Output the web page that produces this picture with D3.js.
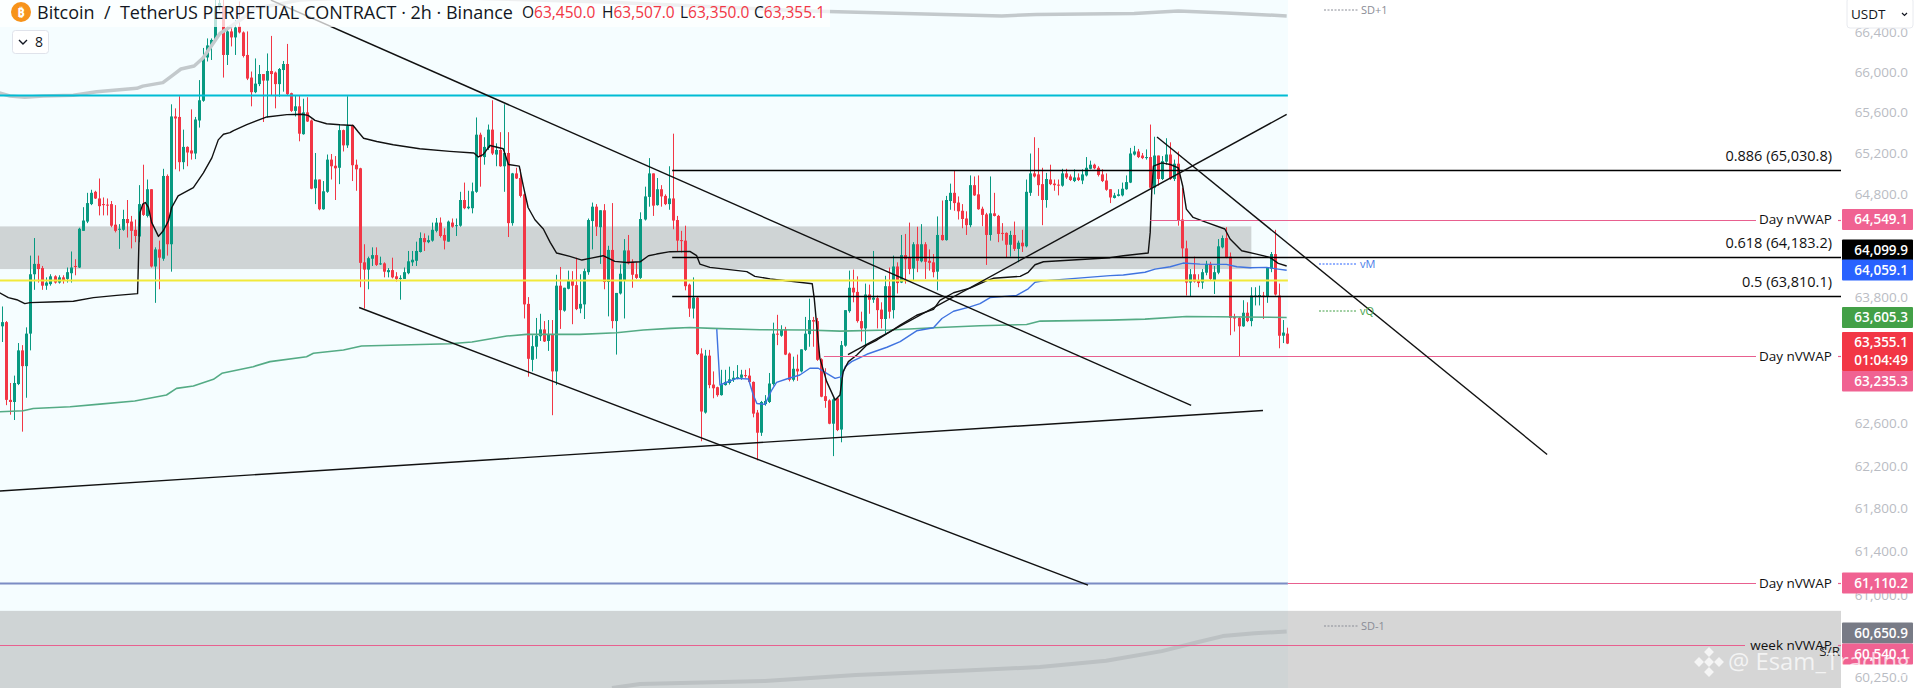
<!DOCTYPE html>
<html><head><meta charset="utf-8">
<script src="https://cdn.jsdelivr.net/npm/d3@7/dist/d3.min.js"></script>
<style>html,body{margin:0;padding:0;background:#fff;overflow:hidden}svg{display:block;font-family:"Open Sans","Noto Sans",sans-serif}</style>
</head><body><svg id="c" width="1918" height="688"></svg>
<script>
const opens=[63520,63560,62820,62800,62970,63290,63140,63450,64020,64120,
64080,63910,63925,64000,63940,63990,63975,64030,64100,64085,
64440,64530,64700,64820,64755,64700,64695,64700,64500,64450,
64450,64555,64530,64450,64385,64700,64585,64845,64095,64260,
64170,64975,64310,65560,65555,65110,65260,65225,65195,65520,
65715,66145,66255,66315,66655,66655,66170,66405,66345,66455,
66395,66170,65945,65800,65880,65980,65915,66010,65995,65880,
66020,66080,65790,65615,65660,65385,65600,65520,64855,64940,
64650,64820,65135,65075,65055,65425,65275,65465,65085,65050,
64135,64065,64170,64205,64115,64125,64040,64060,64000,63975,
63975,64030,64135,64150,64235,64370,64330,64345,64440,64520,
64400,64335,64520,64485,64490,64740,64660,64660,64820,65380,
65160,65250,65430,65185,65230,65070,65200,64515,65000,64955,
64795,63735,63200,63325,63425,63490,63380,63445,63090,63910,
63670,63880,63960,63915,63690,63730,64040,64535,64675,64475,
64640,63945,64255,63570,63835,63960,64250,64140,64020,63985,
64550,64770,65000,64690,64845,64780,64700,64755,64545,64350,
64345,63920,63690,63795,63260,62700,63240,62965,62940,62865,
62960,62980,63010,63030,63030,63055,63050,62990,62700,62510,
62780,62800,62970,63450,63430,63490,63260,63010,63115,63090,
63295,63445,63580,63570,63205,62855,62815,62595,62835,62540,
63335,63665,63890,63850,63570,63500,63825,63775,63790,63680,
63590,63905,63675,64095,63940,64205,64180,64075,64310,64145,
64310,64150,64135,64045,64400,64350,64730,64810,64715,64635,
64560,64495,64885,64795,64655,64600,64400,64610,64585,64420,
64420,64305,64400,64265,64325,64290,64810,65000,64990,64895,
64740,64940,64900,64890,64880,65000,64970,64925,64960,64930,
64980,65045,65085,65055,64990,64930,64845,64760,64780,64785,
64845,64910,65185,65215,65175,65150,65160,64860,65175,64945,
65115,65185,64945,65095,64550,64270,63940,64020,63955,63940,
64035,64120,63965,64035,64280,64370,64190,63610,63600,63520,
63650,63570,63810,63810,63815,63810,64075,64215,63815,63430,
63450];
const highs=[63710,63570,62980,63050,63360,63340,63510,64200,64370,64200,
64100,63990,64020,64010,64010,64010,64085,64240,64165,64470,
64670,64810,64840,64830,64950,64765,64755,64730,64690,64505,
64645,64740,64585,64550,64885,65085,64940,64845,64280,64345,
65045,64990,65680,65640,65760,65430,65265,65630,65555,65920,
66240,66335,66335,66780,66820,66780,66455,66435,66520,66705,
66405,66405,66005,66135,66070,65980,66185,66360,66005,66040,
66110,66280,65795,65770,65770,65735,65750,65530,65200,64940,
64925,65185,65190,65170,65475,65430,65760,65480,65135,65055,
64310,64190,64280,64280,64190,64135,64080,64180,64040,64010,
64085,64245,64245,64335,64425,64415,64395,64520,64565,64570,
64465,64540,64560,64560,64820,64910,64830,64910,65550,65400,
65355,65480,65720,65295,65405,65680,65405,65005,65055,65040,
64805,63800,63435,63600,63640,63570,63580,63580,64015,64090,
63890,64055,64050,64180,64020,64075,64560,64715,64700,64640,
64700,64295,64710,63840,64115,64360,64400,64165,64135,64620,
64870,65150,65000,64955,64885,64795,65070,65390,64585,64440,
64490,63930,63990,63800,63310,63295,63295,63090,62945,63105,
63105,63135,63095,63150,63105,63105,63120,62995,62725,62810,
62865,63075,63555,63630,63530,63515,63270,63230,63250,63300,
63610,63785,63610,63600,63215,63120,62825,62835,62840,63380,
63675,64055,64065,64000,63660,63930,63920,64245,63815,63750,
64005,64085,64200,64135,64400,64410,64520,64330,64480,64505,
64330,64260,64215,64580,64735,64780,64900,65030,64775,64700,
64630,64980,64970,64980,64675,64615,64970,64810,64595,64515,
64425,64440,64530,64345,64450,64940,65195,65355,65250,65055,
65005,65085,64940,64940,65045,65045,64990,65040,65000,65040,
65160,65125,65095,65070,65040,65000,64845,64810,64845,64910,
64980,65250,65270,65240,65200,65235,65480,65360,65175,65170,
65345,65305,65135,65215,64860,64345,64070,64190,64020,64070,
64150,64140,64100,64360,64395,64475,64230,63640,63610,63770,
63750,63895,63895,63910,63850,64085,64235,64450,63930,63580,
63507];
const lows=[63370,62770,62680,62630,62960,62520,62840,63290,63870,63940,
63870,63870,63910,63930,63930,63930,63940,63940,64010,64080,
64440,64515,64690,64750,64590,64590,64590,64475,64425,64265,
64440,64375,64270,64330,64330,64585,64570,64085,63745,63875,
64150,64200,64045,65040,65020,65040,65070,65135,65140,65450,
65705,66105,66120,66305,66620,65945,66070,66255,66170,66385,
66145,65920,65660,65790,65860,65505,65550,65770,65640,65755,
65805,65770,65605,65560,65315,65380,65505,64845,64700,64640,
64645,64810,64940,64740,64895,65215,65250,64925,64830,63895,
63690,63875,64100,64100,64110,63990,63990,63980,63950,63775,
63975,64020,64100,64100,64230,64245,64320,64335,64425,64375,
64260,64335,64470,64390,64480,64650,64650,64610,64810,64870,
65085,65230,65180,65070,65065,64820,64380,64490,64945,64765,
63595,63040,63090,63210,63380,63370,63285,62675,62960,63495,
63660,63875,63540,63675,63645,63590,64015,64260,64390,64120,
63875,63615,63500,63250,63825,63595,64115,63890,63975,63975,
64540,64675,64585,64685,64675,64690,64645,64455,64245,64230,
63865,63610,63595,63245,62430,62690,62930,62835,62850,62860,
62955,62965,62990,63015,63010,63030,62985,62655,62250,62480,
62765,62790,62955,63340,63420,63245,62995,62995,63000,63080,
63285,63325,63325,63190,62845,62745,62590,62290,62525,62420,
63325,63650,63750,63555,63375,63325,63640,63745,63500,63500,
63450,63595,63595,63835,63935,63930,64020,63960,64040,64135,
63975,64055,63990,63865,64345,64345,64645,64635,64550,64465,
64400,64475,64780,64645,64485,64110,64345,64580,64330,64345,
64180,64190,64245,64135,64235,64280,64780,64960,64780,64495,
64665,64885,64830,64785,64870,64945,64925,64915,64925,64895,
64970,65040,65040,64970,64915,64830,64710,64755,64775,64775,
64840,64905,65175,65150,65140,65135,64850,64795,64880,64935,
65085,64935,64925,64490,64180,63815,63810,63940,63895,63880,
64010,63965,63830,64020,64270,64175,63435,63470,63230,63515,
63560,63520,63720,63720,63590,63745,64040,63815,63310,63360,
63350];
const closes=[63560,62820,62800,62980,63290,63140,63450,64020,64120,64070,
63910,63940,64000,63940,63990,63960,64040,64085,64090,64460,
64540,64710,64810,64755,64680,64690,64690,64490,64440,64460,
64555,64515,64440,64390,64700,64595,64845,64095,64260,64180,
64975,64310,65560,65540,65110,65260,65205,65195,65530,65720,
66155,66265,66320,66655,66690,66170,66405,66345,66445,66395,
66160,65935,65800,65885,65980,65915,66010,65980,65880,66030,
66080,65780,65615,65660,65390,65600,65510,64850,64940,64650,
64825,65135,65070,65050,65425,65275,65465,65080,65040,64130,
64065,64175,64205,64110,64125,64045,64060,63990,63975,63985,
64040,64145,64160,64245,64370,64330,64350,64450,64520,64390,
64345,64530,64480,64495,64740,64660,64675,64825,65380,65160,
65260,65430,65195,65230,65070,65200,64515,65000,64950,64780,
63730,63210,63330,63430,63490,63375,63445,63090,63910,63675,
63890,63960,63910,63685,63735,64050,64545,64675,64480,64640,
63945,64255,63570,63840,64025,64250,64125,64015,63985,64555,
64775,65000,64685,64845,64775,64700,64755,64540,64345,64340,
63905,63690,63795,63255,62710,63240,62960,62930,62865,62965,
62990,63015,63030,63035,63060,63045,62990,62690,62510,62800,
62810,62975,63450,63440,63485,63250,63010,63115,63090,63300,
63450,63580,63565,63200,62850,62810,62595,62825,62535,63340,
63675,63890,63845,63570,63500,63825,63775,63795,63675,63590,
63905,63660,64095,63935,64205,64165,64070,64310,64150,64310,
64140,64130,64040,64400,64350,64740,64810,64710,64630,64555,
64495,64885,64785,64650,64595,64400,64610,64585,64410,64410,
64305,64400,64265,64325,64290,64820,65000,64970,64885,64740,
64945,64895,64885,64885,65000,64960,64935,64960,64935,64990,
65055,65085,65050,64985,64925,64840,64765,64785,64795,64850,
64915,65195,65215,65160,65150,65160,64860,65175,64945,65120,
65185,64945,65095,64540,64270,63940,64020,63950,63935,64040,
64120,63975,64040,64290,64370,64180,63600,63595,63520,63650,
63570,63815,63815,63820,63805,64085,64215,63825,63430,63460,
63355];

// anchored VWAP lines: bar position, price
const blackBars=[-1,1.5,3.6,5.6,6.9,11.9,17.7,22.7,28.5,33.7,34.1,34.3,35,35.6,36.4,37.2,38.9,40.1,41.4,42.2,43.8,47.6,50.1,52.2,53.8,55.1,56.7,57.6,60.9,65.9,70.9,74.6,76.2,77.9,80.8,84.1,87.4,88.7,90,93.3,97.4,104,111.5,117.5,118.6,119.8,121.5,124.8,126.1,128.8,129.8,131,132.7,134.8,136.5,138.1,141.4,144.4,146.4,149.7,152.6,155.6,158.9,161,163,166.4,171.3,173,173.8,176.3,185.5,187.5,191.3,201.8,202.3,202.9,203.7,205.4,207.5,208.7,209.5,210.8,212.9,215.4,217.9,221.2,223.7,227.8,232,233.6,237,241.1,245.3,246.9,253.6,255.6,257.3,259.4,276,279.3,285.5,286,286.4,286.8,288.9,291,293,294.1,295,296.7,300,304.6,305.9,308.8,312.5,315.8,317.9,320];
const blackPrices=[63848,63795,63775,63737,63747,63753,63760,63795,63817,63833,64425,64619,64700,64716,64667,64522,64386,64441,64538,64667,64780,64861,65006,65152,65329,65384,65400,65421,65480,65555,65578,65581,65571,65521,65488,65478,65471,65406,65345,65313,65281,65242,65216,65200,65161,65184,65274,65242,65087,65071,64877,64667,64548,64458,64328,64225,64193,64157,64173,64199,64144,64134,64140,64199,64215,64238,64241,64199,64118,64086,64045,64000,63975,63928,63785,63531,63214,62993,62818,62866,63088,63183,63246,63341,63389,63468,63531,63626,63683,63769,63842,63886,63959,63981,64000,64039,64112,64141,64180,64199,64225,64425,64845,65071,65103,65087,65055,64877,64651,64570,64522,64458,64361,64247,64215,64183,64125,64100];
const blueBars=[178,178.8,180.5,183,185.9,187.1,188,190,191.7,192.9,195.4,198.7,201.2,203.3,205.4,207.5,209.1,210,211.6,215.4,220.4,223.7,227.8,232,234.1,237,241.1,243.6,246.1,252.7,255.6,257.3,259.4,276,279.3,284.7,287.2,291,294.2,298.4,305,307.6,310.9,315,317.9,320];
const bluePrices=[63493,62961,62987,63024,63018,62866,62786,62777,62913,62986,63018,63056,63120,63120,63072,63024,63040,63135,63183,63253,63320,63373,63477,63506,63595,63664,63706,63737,63795,63817,63880,63943,63956,64007,64013,64039,64070,64092,64128,64118,64115,64092,64083,64086,64070,64059];
const greenBars=[-1,5.2,7.7,16.9,24.3,33,40.9,43.4,47.6,52.6,54.7,62.5,66.7,75.8,77.5,85,89.5,111.5,117,125.7,130.6,143.9,153,159.7,166.4,171.3,177,188.8,200.4,208.7,221.2,232,243.6,255.2,258.6,276,284.7,295,320];
const greenPrices=[62707,62717,62739,62755,62780,62809,62866,62929,62951,63015,63072,63135,63183,63230,63262,63294,63332,63354,63370,63427,63443,63443,63459,63484,63500,63509,63500,63487,63484,63474,63484,63506,63525,63537,63570,63579,63589,63614,63605];
const sdUpBars=[-1,1.9,5.6,10.2,17.7,23.5,33.5,35,40,42.5,44.5,47.8,50,52.5,54.2,56.7,60,63,68,74,98,150,201,249,257.6,282,293,305,320];
const sdUpPrices=[65795,65762,65750,65762,65770,65805,65838,65860,65895,65970,66030,66060,66140,66285,66385,66450,66540,66640,66670,66720,66760,66700,66610,66560,66575,66585,66610,66590,66560];
const sdDownBars=[151.9,158.9,190,212.7,240,258.5,275,288.9,298,304.1,312,320];
const sdDownPrices=[60152,60188,60215,60270,60310,60342,60400,60487,60570,60624,60650,60665];

const priceTicks=[66400,66000,65600,65200,64800,63800,62600,62200,61800,61400,61000,60250];
const zones=[{a:64483,b:64070,to:311.2}];
const levels=[
 {p:65770,c:"#00bcd4",w:2,from:-1,to:320.3},
 {p:63966,c:"#f2e93a",w:2,from:-1,to:320.3},
 {p:61110.2,c:"#7b8cc4",w:2,from:-1,to:320.3}];
const fibBars=166.9;
const fibLevels=[{p:65030.8,t:"0.886 (65,030.8)"},{p:64183.2,t:"0.618 (64,183.2)"},{p:63810.1,t:"0.5 (63,810.1)"}];
const vwapLevels=[{p:64549.1,from:286,t:"Day nVWAP"},{p:63235.3,from:204.7,t:"Day nVWAP"},{p:61110.2,from:320.3,t:"Day nVWAP"},{p:60540.1,from:-1,t:"week nVWAP"}];
const trends=[
 {a:[66.9,66720],b:[296.2,62767]},
 {a:[88.9,63700],b:[270.5,61092]},
 {a:[-1,61963],b:[314.1,62720]},
 {a:[210.7,63250],b:[320,65581]},
 {a:[287.7,65358],b:[384.9,62306]}];
const tags=[
 {t:"64,549.1",c:"#f06292",y:64549.1,d:0},
 {t:"64,099.9",c:"#000000",y:64549.1,d:30},
 {t:"64,059.1",c:"#2962ff",y:64549.1,d:50},
 {t:"63,605.3",c:"#43a047",y:63605.3,d:0},
 {t:"63,235.3",c:"#f06292",y:63235.3,d:25},
 {t:"61,110.2",c:"#f06292",y:61110.2,d:0},
 {t:"60,650.9",c:"#787b86",y:60650.9,d:1},
 {t:"60,540.1",c:"#f06292",y:60540.1,d:9}];

const W=1918,H=688,plotR=1288,axisL=1841;
const x=d3.scaleLinear().domain([0,320]).range([2.33,1286.67]);
const y=d3.scaleLog().domain([66720,60152]).range([0,688]);
const svg=d3.select("#c");
const GREEN="#089981",RED="#f23645",PINK="#e8608f";

svg.append("rect").attr("width",W).attr("height",H).attr("fill","#fff");
svg.append("rect").attr("width",plotR).attr("height",H).attr("fill","#f5fdff");
// bands
svg.append("rect").attr("x",plotR).attr("y",y(60855)).attr("width",axisL-plotR).attr("height",H-y(60855)).attr("fill","#d6d6d6");
svg.append("rect").attr("x",0).attr("y",y(60855)).attr("width",plotR).attr("height",H-y(60855)).attr("fill","#cfd4d5");
zones.forEach(z=>svg.append("rect").attr("x",0).attr("y",y(z.a)).attr("width",x(z.to)).attr("height",y(z.b)-y(z.a)).attr("fill","#cfd4d5"));

// candles
const idx=d3.range(opens.length);
const g=svg.append("g");
g.selectAll("line.w").data(idx).join("line").attr("class","w")
 .attr("x1",i=>Math.round(x(i))+.5).attr("x2",i=>Math.round(x(i))+.5)
 .attr("y1",i=>y(highs[i])).attr("y2",i=>y(lows[i]))
 .attr("stroke",i=>closes[i]>=opens[i]?GREEN:RED).attr("stroke-width",1);
g.selectAll("rect.b").data(idx).join("rect").attr("class","b")
 .attr("x",i=>Math.round(x(i))-1).attr("width",3)
 .attr("y",i=>y(Math.max(opens[i],closes[i])))
 .attr("height",i=>Math.max(1,Math.abs(y(opens[i])-y(closes[i]))))
 .attr("fill",i=>closes[i]>=opens[i]?GREEN:RED);

// indicator lines
const path=(bars,prices,c,w,op)=>svg.append("path")
 .attr("d",d3.line().x(d=>x(d)).y((d,i)=>y(prices[i]))(bars))
 .attr("fill","none").attr("stroke",c).attr("stroke-width",w).attr("stroke-opacity",op||1).attr("stroke-linejoin","round");
path(sdUpBars,sdUpPrices,"#c3c9cc",3.5);
path(sdDownBars,sdDownPrices,"#bcc1c3",4);
path(greenBars,greenPrices,"#54ab85",1.6);
path(blueBars,bluePrices,"#3f73e0",1.4);
path(blackBars,blackPrices,"#111",1.4);

// horizontal levels
const hline=(p,a,b,c,w)=>svg.append("line").attr("x1",a).attr("x2",b).attr("y1",Math.round(y(p))+.5).attr("y2",Math.round(y(p))+.5).attr("stroke",c).attr("stroke-width",w);
levels.forEach(l=>hline(l.p,x(l.from),x(l.to),l.c,l.w));
fibLevels.forEach(l=>hline(l.p,x(fibBars),axisL,"#000",1.4));
vwapLevels.forEach(l=>{
 const e=l.t.startsWith("week")?1745:1756;
 hline(l.p,Math.max(0,x(l.from)),e,PINK,1.2);
 hline(l.p,1838,axisL,PINK,1.2);
});
// trend lines
svg.selectAll("line.t").data(trends).join("line").attr("class","t")
 .attr("x1",d=>x(d.a[0])).attr("y1",d=>y(d.a[1])).attr("x2",d=>x(d.b[0])).attr("y2",d=>y(d.b[1]))
 .attr("stroke","#111").attr("stroke-width",1.4);

// axis
const ax=svg.append("g").attr("transform",`translate(${axisL},0)`)
 .call(d3.axisRight(y).tickValues(priceTicks).tickFormat(d3.format(",.1f")).tickSize(0).tickPadding(67));
ax.select(".domain").remove();
ax.selectAll("text").attr("text-anchor","end").attr("fill","#b9bcc3").attr("font-size",13.5).attr("font-family","'Open Sans'");

// text labels
const label=(t,xp,yp,a,c,s)=>svg.append("text").attr("x",xp).attr("y",yp).attr("dy","0.35em").attr("text-anchor",a).attr("fill",c).attr("font-size",s).text(t);
fibLevels.forEach(l=>label(l.t,1832,y(l.p)-14,"end","#111",14.5));
vwapLevels.forEach(l=>label(l.t,1832,y(l.p),"end","#111",13.5));
label("S/R",1840,651,"end","#222",13.5);
const dash=(a,b,yp,c)=>svg.append("line").attr("x1",a).attr("x2",b).attr("y1",yp).attr("y2",yp).attr("stroke",c).attr("stroke-dasharray","2 1.5");
dash(1324,1358,10,"#8a8d96");label("SD+1",1361,10,"start","#8a8d96",11);
dash(1324,1358,626,"#8a8d96");label("SD-1",1361,626,"start","#8a8d96",11);
dash(1319,1356,264,"#2962ff");label("vM",1360,264,"start","#4a7be8",11);
dash(1319,1356,311,"#43a047");label("vQ",1360,311,"start","#43a047",11);

// price tags
tags.forEach(d=>{
 const cy=d.d===1?633:d.d===9?654:d.d===25?381:d.d===30?250:d.d===50?270:y(d.y);
 svg.append("rect").attr("x",1842).attr("y",cy-10.5).attr("width",71).attr("height",21).attr("rx",1).attr("fill",d.c);
 label(d.t,1908,cy,"end","#fff",13.5).attr("font-weight",600);
});
svg.append("rect").attr("x",1842).attr("y",332).attr("width",71).attr("height",39).attr("rx",1).attr("fill",RED);
label("63,355.1",1908,342,"end","#fff",13.5).attr("font-weight",600);
label("01:04:49",1908,360,"end","#fff",13.5).attr("font-weight",600);

// header overlay
svg.append("rect").attr("x",0).attr("y",0).attr("width",830).attr("height",27).attr("fill","#fff").attr("fill-opacity",.72);
svg.append("circle").attr("cx",21).attr("cy",12).attr("r",10).attr("fill","#f7931a");
svg.append("text").attr("x",21).attr("y",12).attr("dy","0.35em").attr("text-anchor","middle").attr("fill","#fff").attr("font-size",13).attr("font-weight",700).text("₿");
label("Bitcoin  /  TetherUS PERPETUAL CONTRACT · 2h · Binance",37,13,"start","#131722",18).style("white-space","pre").attr("textLength",476).attr("lengthAdjust","spacingAndGlyphs");
const ohlc=[["O","63,450.0",522],["H","63,507.0",602],["L","63,350.0",680],["C","63,355.1",754]];
ohlc.forEach(o=>{
 const t=label(o[0],o[2],13,"start","#131722",15.5);
 t.append("tspan").attr("fill",RED).text(o[1]);
});
svg.append("rect").attr("x",12.5).attr("y",30.5).attr("width",36).attr("height",23).attr("rx",3).attr("fill","#fff").attr("stroke","#e0e3eb");
svg.append("path").attr("d","M19 40l4 4 4-4").attr("fill","none").attr("stroke","#131722").attr("stroke-width",1.4);
label("8",39,42,"middle","#131722",14);

// currency box
svg.append("rect").attr("x",1847).attr("y",-2).attr("width",66).attr("height",30).attr("rx",3).attr("fill","#fff").attr("stroke","#e8eaef");
label("USDT",1851,14,"start","#131722",13.5);
svg.append("path").attr("d","M1902 13l2.5 2.5 2.5-2.5").attr("fill","none").attr("stroke","#131722").attr("stroke-width",1.2);

// watermark
const wm=svg.append("g").attr("fill","#fff").attr("fill-opacity",.75).attr("transform","translate(1709,662)");
[[0,-10],[-10,0],[10,0],[0,10],[0,0]].forEach(p=>wm.append("rect").attr("x",p[0]-3.5).attr("y",p[1]-3.5).attr("width",7).attr("height",7).attr("transform",`rotate(45 ${p[0]} ${p[1]})`));
label("@ Esam_Trading",1728,662,"start","#fff",24).attr("fill-opacity",.72).attr("textLength",182).attr("lengthAdjust","spacingAndGlyphs");
</script></body></html>
